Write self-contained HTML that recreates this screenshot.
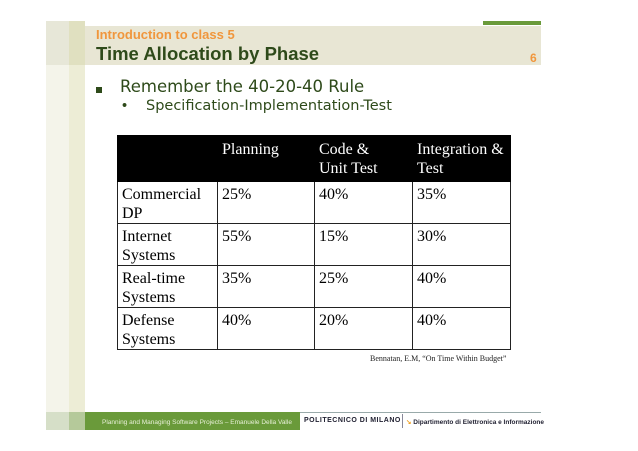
<!DOCTYPE html>
<html><head><meta charset="utf-8"><style>
body{margin:0;width:638px;height:451px;background:#fff;position:relative;overflow:hidden;font-family:"Liberation Sans",sans-serif}
div{position:absolute}
table{position:absolute;left:117px;top:135px;width:393px;border-collapse:collapse;table-layout:fixed;font-family:"Liberation Serif",serif;font-size:16px;line-height:18.5px;color:#000}
td{border:1.5px solid #222;vertical-align:top;padding:4px 3px 0 4px;height:38px;overflow:hidden;white-space:nowrap;box-sizing:border-box}
tr.h td{background:#000;color:#fff;height:46px;padding-top:5px;border-color:#000}
</style></head><body>
<div style="left:46px;top:21px;width:23px;height:409px;background:#f4f4ea"></div>
<div style="left:69px;top:21px;width:16px;height:409px;background:#ededd6"></div>
<div style="left:46px;top:21px;width:23px;height:44px;background:#e7e7d8"></div>
<div style="left:69px;top:21px;width:16px;height:44px;background:#e0e0c0"></div>
<div style="left:85px;top:26px;width:456px;height:39px;background:#e8e6d4"></div>
<div style="left:483px;top:21px;width:58px;height:4px;background:#6a9a3a"></div>
<div style="left:96px;top:27px;font-size:13px;font-weight:bold;color:#f0963c">Introduction to class 5</div>
<div style="left:96px;top:43px;font-size:18.5px;font-weight:bold;color:#2e4a1a">Time Allocation by Phase</div>
<div style="left:530px;top:51px;font-size:12px;font-weight:bold;color:#f0963c">6</div>
<div style="left:96px;top:87px;width:6px;height:6px;background:#2e4a1a"></div>
<div style="left:120px;top:77px;font-family:'DejaVu Sans',sans-serif;font-size:16.5px;color:#2e4a1a">Remember the 40-20-40 Rule</div>
<div style="left:122px;top:98px;font-size:14.5px;color:#2e4a1a">•</div>
<div style="left:146px;top:98px;font-family:'DejaVu Sans',sans-serif;font-size:14.5px;color:#2e4a1a">Specification-Implementation-Test</div>
<table>
<colgroup><col style="width:100px"><col style="width:97px"><col style="width:98px"><col style="width:98px"></colgroup>
<tr class="h"><td></td><td>Planning</td><td>Code &amp;<br>Unit Test</td><td>Integration &amp;<br>Test</td></tr>
<tr><td style="height:42px">Commercial<br>DP</td><td>25%</td><td>40%</td><td>35%</td></tr>
<tr><td style="height:42px">Internet<br>Systems</td><td>55%</td><td>15%</td><td>30%</td></tr>
<tr><td style="height:42px">Real-time<br>Systems</td><td>35%</td><td>25%</td><td>40%</td></tr>
<tr><td style="height:42px">Defense<br>Systems</td><td>40%</td><td>20%</td><td>40%</td></tr>
</table>
<div style="left:370px;top:354px;font-family:'Liberation Serif',serif;font-size:8px;color:#222;white-space:nowrap">Bennatan, E.M, “On Time Within Budget”</div>
<div style="left:46px;top:412px;width:23px;height:18px;background:#d6dfc8"></div>
<div style="left:69px;top:412px;width:16px;height:18px;background:#b5c99a"></div>
<div style="left:85px;top:412px;width:215px;height:18px;background:#6a9a3a"></div>
<div style="left:300px;top:412px;width:241px;height:1px;background:#9aa"></div>
<div style="left:102px;top:419px;font-size:6.5px;color:#e8f0d8;white-space:nowrap">Planning and Managing Software Projects – Emanuele Della Valle</div>
<div style="left:304px;top:417px;font-size:7px;font-weight:bold;letter-spacing:0.5px;color:#223;white-space:nowrap">POLITECNICO DI MILANO</div>
<div style="left:402px;top:414px;width:1px;height:14px;background:#889"></div>
<div style="left:406px;top:418px;font-size:6.5px;font-weight:bold;color:#223;white-space:nowrap"><span style="color:#f0a020">↘</span> Dipartimento di Elettronica e Informazione</div>
</body></html>
